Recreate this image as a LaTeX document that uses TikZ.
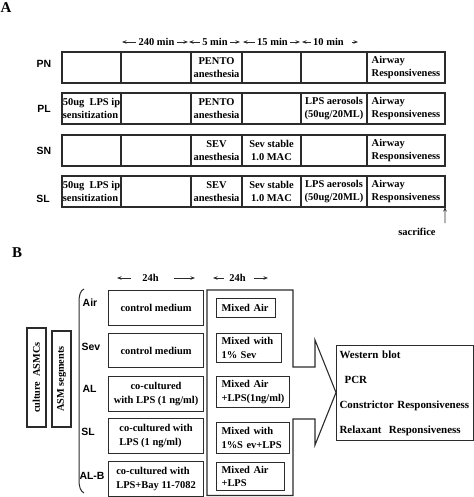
\documentclass[tikz,border=0pt]{standalone}
\usepackage{fontspec}
\setmainfont{Liberation Serif}
\newfontfamily\labfont{Liberation Sans}
\usetikzlibrary{arrows.meta}
\definecolor{ln}{HTML}{2B2B2B}
\newcommand\tlrow[8]{%
  \node[cell,align=left,minimum width=59bp] (#1a) at (62,#2) {#3};
  \node[cell,minimum width=70bp] (#1b) at (121,#2) {#4};
  \node[cell,minimum width=51bp] (#1c) at (191,#2) {#5};
  \node[cell,minimum width=59bp] (#1d) at (242,#2) {#6};
  \node[cell,minimum width=66bp] (#1e) at (301,#2) {#7};
  \node[cell,align=left,minimum width=78bp] (#1f) at (367,#2) {#8};
}
\begin{document}
\begin{tikzpicture}[x=1bp,y=-1bp,line width=1.1bp,
  txt/.style={font=\bfseries\fontsize{10.5}{12.5}\selectfont, inner sep=2bp},
  cell/.style={draw=ln, rectangle, inner sep=0pt, outer sep=0pt, minimum height=31bp,
     anchor=north west, align=center, font=\bfseries\fontsize{10.5}{12.5}\selectfont},
  lab/.style={font=\labfont\bfseries\fontsize{10.5}{12}\selectfont, inner sep=1bp},
  arr/.style={draw=ln, line width=0.8bp, -{Stealth[length=4.5bp,width=3.5bp]}},
  lbox/.style={draw=ln, rectangle, inner sep=0pt, anchor=north west, minimum width=95bp,
     minimum height=35bp, align=center, font=\bfseries\fontsize{10.5}{14}\selectfont},
  rbox/.style={draw=ln, rectangle, inner xsep=5bp, inner ysep=0pt, anchor=north west,
     align=left, font=\bfseries\fontsize{10.5}{13.5}\selectfont},
  vbox/.style={draw=ln, rectangle, rotate=90, inner sep=0pt, minimum height=19bp,
     font=\bfseries\fontsize{10.3}{12}\selectfont}
]
\useasboundingbox (0,0) rectangle (474,497);

% ---------- Part A ----------
\node[font=\bfseries\fontsize{15}{15}\selectfont, inner sep=0pt] (lA) at (6,8) {A};

% header
\node[txt] (h1) at (156.5,42) {240 min};
\node[txt] (h2) at (215,42) {5 min};
\node[txt] (h3) at (272.5,42) {15 min};
\node[txt] (h4) at (328.5,42) {10 min};
\coordinate (a1l) at (122,42);
\coordinate (a1r) at (188,42);
\coordinate (a2l) at (189,42);
\coordinate (a2r) at (240,42);
\coordinate (a3l) at (243,42);
\coordinate (a3r) at (300,42);
\coordinate (a4l) at (302,42);
\coordinate (a4r) at (358,42);
\draw[arr] (h1.west) -- (a1l);
\draw[arr] (h1.east) -- (a1r);
\draw[arr] (h2.west) -- (a2l);
\draw[arr] (h2.east) -- (a2r);
\draw[arr] (h3.west) -- (a3l);
\draw[arr] (h3.east) -- (a3r);
\draw[arr] (h4.west) -- (a4l);
\draw[arr, shorten <=6bp] (h4.east) -- (a4r);

% rows
\tlrow{pn}{52}{}{}{PENTO\\anesthesia}{}{}{Airway\\Responsiveness}
\tlrow{pl}{93}{50ug\ \ LPS ip\\sensitization}{}{PENTO\\anesthesia}{}{LPS aerosols\\(50ug/20ML)}{Airway\\Responsiveness}
\tlrow{sn}{135}{}{}{SEV\\anesthesia}{Sev stable\\1.0 MAC}{}{Airway\\Responsiveness}
\tlrow{sl}{176}{50ug\ \ LPS ip\\sensitization}{}{SEV\\anesthesia}{Sev stable\\1.0 MAC}{LPS aerosols\\(50ug/20ML)}{Airway\\Responsiveness}

\node[lab] (lpn) at (44,64) {PN};
\node[lab] (lpl) at (44,109) {PL};
\node[lab] (lsn) at (44,151) {SN};
\node[lab] (lsl) at (43,199) {SL};

\node[txt] (sac) at (417,232) {sacrifice};
\coordinate (sacb) at (445,223);
\draw[arr] (sacb) -- (slf.south east);

% ---------- Part B ----------
\node[font=\bfseries\fontsize{15}{15}\selectfont, inner sep=0pt] (lB) at (17,253) {B};

\node[txt] (t1) at (150.5,278) {24h};
\node[txt] (t2) at (237.5,278) {24h};
\coordinate (b1l) at (117,278);
\coordinate (b1r) at (195,278);
\coordinate (b2l) at (213,278);
\coordinate (b2r) at (268,278);
\draw[arr, shorten <=9bp] (t1.west) -- (b1l);
\draw[arr, shorten <=13bp] (t1.east) -- (b1r);
\draw[arr, shorten <=3bp] (t2.west) -- (b2l);
\draw[arr, shorten <=6bp] (t2.east) -- (b2r);

% vertical boxes
\node[vbox, minimum width=99bp] (cult) at (36.5,377.5) {culture\ \ ASMCs};
\node[vbox, minimum width=96bp] (segs) at (61.5,379) {ASM segments};

% bracket
\draw[ln, line width=1bp] (84,289) .. controls (80.5,290.5) and (79,295) .. (79,302)
   -- (79,480) .. controls (79,487) and (80.5,491) .. (84,493);

% row labels
\node[lab] (rair) at (90,303) {Air};
\node[lab] (rsev) at (91,347) {Sev};
\node[lab] (ral) at (89.5,389) {AL};
\node[lab] (rsl) at (88,432) {SL};
\node[lab] (ralb) at (92,476) {AL-B};

% left column boxes
\node[lbox] (c1) at (108,290) {control medium};
\node[lbox, minimum height=34bp] (c2) at (108,333) {control medium};
\node[lbox] (c3) at (108,376) {co-cultured\\with LPS (1 ng/ml)};
\node[lbox, align=left] (c4) at (108,418) {co-cultured with\\LPS (1 ng/ml)};
\node[lbox, align=left] (c5) at (108,461) {co-cultured with\\LPS+Bay 11-7082};

% enclosing callout shape
\draw[ln] (207,495.5) -- (207,290) -- (293,290) -- (293,367) -- (315,367) -- (315,340)
   -- (336,392.5) -- (315,445) -- (315,419) -- (293,419) -- (293,495.5) -- cycle;

% right column boxes
\node[rbox, text width=49bp, minimum height=19bp] (m1) at (216,298) {Mixed Air};
\node[rbox, text width=55bp, minimum height=29bp] (m2) at (216,333) {Mixed with\\1\% Sev};
\node[rbox, text width=63bp, minimum height=31bp] (m3) at (216,376) {Mixed Air\\+LPS(1ng/ml)};
\node[rbox, text width=63bp, minimum height=31bp] (m4) at (216,422) {Mixed with\\1\%S ev+LPS};
\node[rbox, text width=58bp, minimum height=28bp] (m5) at (216,462) {Mixed Air\\+LPS};

% result box
\node[draw=ln, rectangle, anchor=north west, inner xsep=3bp, inner ysep=0pt,
      text width=131bp, minimum height=95bp, align=left,
      font=\bfseries\fontsize{11}{25}\selectfont] (res) at (336,345)
  {Western blot\\\hspace*{5bp}PCR\\Constrictor Responsiveness\\Relaxant\ \ Responsiveness};
\end{tikzpicture}
\end{document}
